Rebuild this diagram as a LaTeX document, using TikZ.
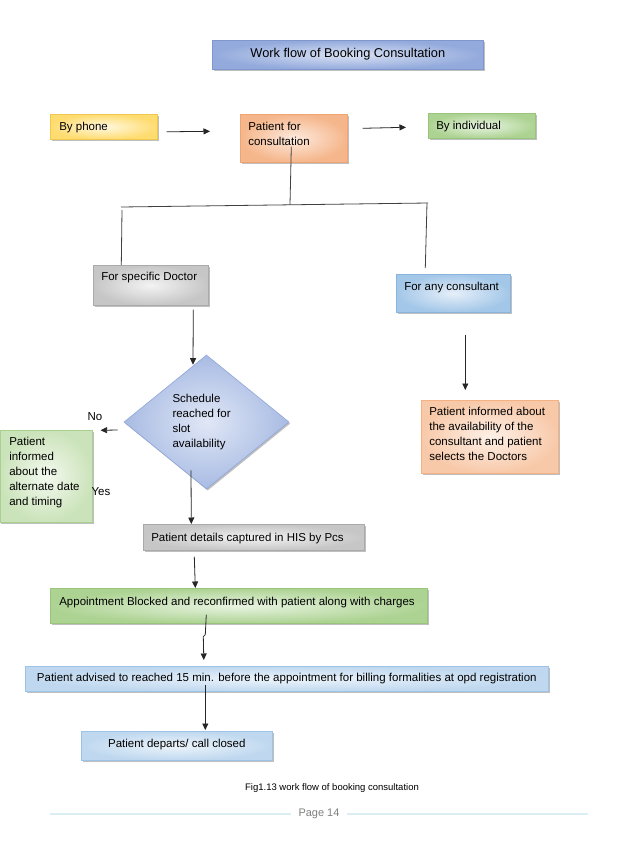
\documentclass[tikz,border=0pt]{standalone}
\usepackage{fontspec}
\setmainfont{Liberation Sans}
\usetikzlibrary{shapes.geometric,shadows,arrows.meta}
\definecolor{ttlO}{HTML}{93AADC}\definecolor{ttlI}{HTML}{DAE2F4}\definecolor{ttlB}{HTML}{7F97CC}
\definecolor{yelO}{HTML}{FFDC70}\definecolor{yelI}{HTML}{FFF8E0}\definecolor{yelB}{HTML}{F0C850}
\definecolor{orgO}{HTML}{F5B68B}\definecolor{orgI}{HTML}{FDEADE}\definecolor{orgB}{HTML}{EFA472}
\definecolor{grnO}{HTML}{ADD393}\definecolor{grnI}{HTML}{E9F4E2}\definecolor{grnB}{HTML}{98C47C}
\definecolor{gryO}{HTML}{C6C6C6}\definecolor{gryI}{HTML}{F3F3F3}\definecolor{gryB}{HTML}{AAAAAA}
\definecolor{bluO}{HTML}{A3C7E8}\definecolor{bluI}{HTML}{E6EFF9}\definecolor{bluB}{HTML}{8AB4DC}
\definecolor{diaO}{HTML}{A8BBE3}\definecolor{diaI}{HTML}{E0E7F6}\definecolor{diaB}{HTML}{8EA6DA}
\definecolor{lgrO}{HTML}{CBE3BA}\definecolor{lgrI}{HTML}{F3F9EF}\definecolor{lgrB}{HTML}{A9D08E}
\definecolor{lorO}{HTML}{F8C9A9}\definecolor{lorI}{HTML}{FDF0E7}\definecolor{lorB}{HTML}{F4B183}
\definecolor{lbuO}{HTML}{BFD8EF}\definecolor{lbuI}{HTML}{EDF4FB}\definecolor{lbuB}{HTML}{9DC3E6}
\definecolor{footline}{HTML}{DAEEF3}
\newcommand\bt[5]{\parbox[c][#2pt][t]{#1pt}{\parskip=0pt\vspace*{\dimexpr #4pt-10.5pt\relax}\leftskip=#3pt\rightskip=0pt plus 1fil\parindent=0pt\strut #5}}
\newcommand\ct[4]{\parbox[c][#2pt][t]{#1pt}{\parskip=0pt\vspace*{\dimexpr #3pt-10.5pt\relax}\centering\strut #4}}
\begin{document}
\begin{tikzpicture}[x=1pt,y=-1pt,
  font=\fontsize{11.5}{15}\selectfont,
  box/.style={rectangle, inner sep=0pt, anchor=north west, line width=0.6pt,
     drop shadow={shadow xshift=1.2pt, shadow yshift=-1.6pt, fill=black!55, opacity=0.45}},
  ttlbox/.style={box, draw=ttlB, outer color=ttlO, inner color=ttlI},
  yelbox/.style={box, draw=yelB, outer color=yelO, inner color=yelI},
  orgbox/.style={box, draw=orgB, outer color=orgO, inner color=orgI},
  grnbox/.style={box, draw=grnB, outer color=grnO, inner color=grnI},
  grybox/.style={box, draw=gryB, outer color=gryO, inner color=gryI},
  blubox/.style={box, draw=bluB, outer color=bluO, inner color=bluI},
  lgrbox/.style={box, draw=lgrB, outer color=lgrO, inner color=lgrI},
  lorbox/.style={box, draw=lorB, outer color=lorO, inner color=lorI},
  lbubox/.style={box, draw=lbuB, outer color=lbuO, inner color=lbuI},
  arr/.style={-{Triangle[length=6.5pt,width=6pt]}, line width=0.8pt, draw=black!85},
  conn/.style={line width=0.8pt, draw=black!75},
  lbl/.style={inner sep=0pt, anchor=center}]
\useasboundingbox[fill=white] (0,0) rectangle (638,852);

% title
\node[ttlbox] (title) at (212,40) {\ct{271}{29}{17}{\fontsize{12.8}{15}\selectfont Work flow of Booking Consultation}};

% top row
\node[yelbox] (phone) at (50,114) {\bt{107}{25}{9}{16}{By phone}};
\node[orgbox] (consult) at (240,114) {\bt{107}{48}{8}{16}{Patient for\\consultation}};
\node[grnbox] (indiv) at (428,113) {\bt{107}{25}{8}{16}{By individual}};

% branches
\node[grybox] (spec) at (93,265) {\bt{115}{40}{8}{15}{For specific Doctor}};
\node[blubox] (anycons) at (396,274) {\bt{114}{38}{8}{16}{For any consultant}};

% decision
\node[diamond, draw=diaB, line width=0.6pt, outer color=diaO, inner color=diaI,
      minimum width=165pt, minimum height=134pt, inner sep=0pt,
      drop shadow={shadow xshift=1.2pt, shadow yshift=-1.6pt, fill=black!55, opacity=0.45}]
      (dia) at (206.5,422) {\parbox{68pt}{\raggedright Schedule\\reached for\\slot\\availability}};

\node[lgrbox] (alt) at (0,430) {\bt{92}{92}{9}{15}{Patient\\informed\\about the\\alternate date\\and timing}};
\node[lorbox] (avail) at (421,400) {\bt{137}{73}{8}{15}{Patient informed about\\the availability of the\\consultant and patient\\selects the Doctors}};

\node[lbl] (no) at (95,417) {No};
\node[lbl] (yes) at (101,492) {Yes};

% sequence
\node[grybox] (details) at (143,524) {\bt{221}{26}{8}{17}{Patient details captured in HIS by Pcs}};
\node[grnbox] (appt) at (50,588) {\bt{377}{35}{9}{17}{Appointment Blocked and reconfirmed with patient along with charges}};
\node[lbubox] (advised) at (25,666) {\ct{523}{25}{15}{Patient advised to reached 15 min. before the appointment for billing formalities at opd registration}};
\node[lbubox] (departs) at (81,731) {\ct{191}{29}{16}{Patient departs/ call closed}};

% caption and footer
\node[lbl, font=\fontsize{9.5}{11}\selectfont] (caption) at (332,788) {Fig1.13 work flow of booking consultation};
\node[lbl, text=black!50, font=\fontsize{11}{13}\selectfont] (page) at (319,814) {Page 14};
\draw[footline, line width=1.2pt] (50,814) -- ([xshift=-7pt]page.west);
\draw[footline, line width=1.2pt] ([xshift=7pt]page.east) -- (588,814);

% connectors
\draw[arr] ([shift={(9,5)}]phone.east) -- ([shift={(-30,-7)}]consult.west);
\draw[arr] ([shift={(15,-10)}]consult.east) -- ([shift={(-22,1.5)}]indiv.west);

\coordinate (hl) at (121,207);
\coordinate (hr) at (428,203);
\coordinate (hmid) at (290,204.8);
\draw[conn] ([shift={(-2.5,-16)}]consult.south) -- (hmid);
\draw[conn] (hl) -- (hr);
\draw[conn] ([shift={(1,3)}]hl) -- ([shift={(-29.5,0)}]spec.north);
\draw[conn] ([shift={(-1,0)}]hr) -- ([shift={(-28,-6)}]anycons.north);

\draw[arr] ([shift={(42.5,4)}]spec.south) -- ([shift={(-13.5,10)}]dia.north);
\draw[arr] ([shift={(-6,8)}]dia.west) -- ([shift={(8,-46)}]alt.east);
\draw[arr] ([shift={(-15.5,-19)}]dia.south) -- ([shift={(-62.5,0)}]details.north);
\draw[arr] ([shift={(-59.5,6)}]details.south) -- ([shift={(-43.5,0)}]appt.north);
\draw[arr] ([shift={(-32.5,-9)}]appt.south) -- ++(-1,20) -- ++(-2,2) -- ([shift={(-83,-6)}]advised.north);
\draw[arr] ([shift={(-81.5,-7)}]advised.south) -- ([shift={(28.5,-1)}]departs.north);
\draw[arr] ([shift={(12,22)}]anycons.south) -- ([shift={(-24.5,-10)}]avail.north);
\end{tikzpicture}
\end{document}
